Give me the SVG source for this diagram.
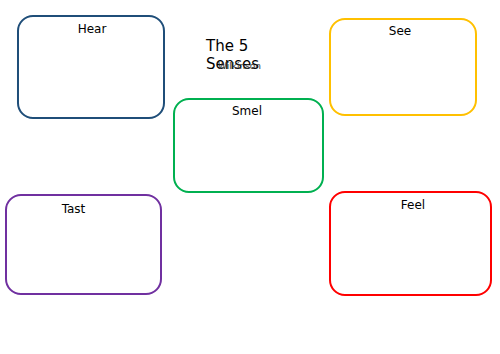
<svg xmlns="http://www.w3.org/2000/svg" width="500" height="354" viewBox="0 0 500 354">
<style>
.box{fill:#fff;stroke-width:2}
.lbl{font-family:"DejaVu Sans",sans-serif;font-size:12px;fill:#000;text-anchor:middle}
.title{font-family:"DejaVu Sans",sans-serif;font-size:15px;fill:#000}
</style>
<rect width="500" height="354" fill="#fff"/>
<g id="title">
<text class="title" x="206" y="51">The 5</text>
<text class="title" x="206" y="69">Senses</text>
<text x="218" y="69" font-family="DejaVu Sans,sans-serif" font-size="9" fill="#333">Wilkinson</text>
</g>
<g id="hear">
<rect class="box" x="18" y="16" width="146" height="102" rx="15" stroke="#1F4E79"/>
<text class="lbl" x="92" y="33">Hear</text>
</g>
<g id="see">
<rect class="box" x="330" y="19" width="146" height="96" rx="15" stroke="#FFC000"/>
<text class="lbl" x="400" y="35">See</text>
</g>
<g id="smel">
<rect class="box" x="174" y="99" width="149" height="93" rx="15" stroke="#00B050"/>
<text class="lbl" x="247" y="115">Smel</text>
</g>
<g id="tast">
<rect class="box" x="6" y="195" width="155" height="99" rx="15" stroke="#7030A0"/>
<text class="lbl" x="73.5" y="213">Tast</text>
</g>
<g id="feel">
<rect class="box" x="330" y="192" width="161" height="103" rx="15" stroke="#FF0000"/>
<text class="lbl" x="413" y="209">Feel</text>
</g>
<g id="connectors"></g>
</svg>
